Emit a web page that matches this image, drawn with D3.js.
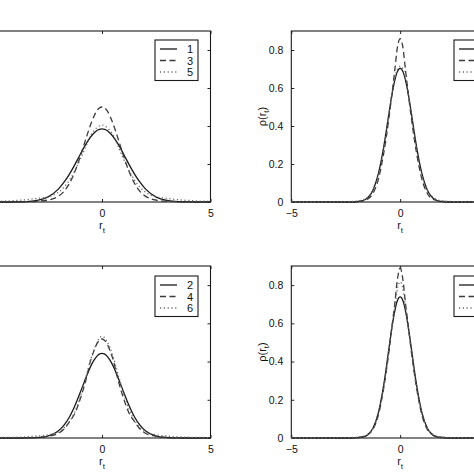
<!DOCTYPE html>
<html>
<head>
<meta charset="utf-8">
<script src="https://cdn.jsdelivr.net/npm/d3@7"></script>
<style>
  body { margin: 0; background: #fff; }
  svg { display: block; font-family: "Liberation Sans", Arial, sans-serif; }
  .tick text { font-size: 10.5px; fill: #111; }
  .domain { display: none; }
  .tick line { stroke: #222; }
</style>
</head>
<body>
<div id="chart"></div>
<script>
// r grid shared by every density curve
const rGrid = [-5, -4.5, -4, -3.5, -3, -2.5, -2, -1.75, -1.5, -1.25, -1, -0.75, -0.5, -0.375, -0.25, -0.125,
  0, 0.125, 0.25, 0.375, 0.5, 0.75, 1, 1.25, 1.5, 1.75, 2, 2.5, 3, 3.5, 4, 4.5, 5];

// top left: series 1, 3, 5
const tlSolid = [0, 0, 0.0004, 0.002, 0.008, 0.026, 0.069, 0.104, 0.147, 0.197, 0.251, 0.303, 0.346, 0.362, 0.375, 0.382,
  0.385, 0.382, 0.375, 0.362, 0.346, 0.303, 0.251, 0.197, 0.147, 0.104, 0.069, 0.026, 0.008, 0.002, 0.0004, 0, 0];
const tlDashed = [0, 0.0002, 0.0005, 0.0015, 0.004, 0.01, 0.031, 0.056, 0.098, 0.16, 0.24, 0.33, 0.415, 0.45, 0.478, 0.495,
  0.50, 0.495, 0.478, 0.45, 0.415, 0.33, 0.24, 0.16, 0.098, 0.056, 0.031, 0.01, 0.004, 0.0015, 0.0005, 0.0002, 0];
const tlDotted = [0.004, 0.005, 0.008, 0.012, 0.019, 0.027, 0.052, 0.078, 0.115, 0.165, 0.225, 0.29, 0.355, 0.375, 0.39, 0.40,
  0.405, 0.40, 0.39, 0.375, 0.355, 0.29, 0.225, 0.165, 0.115, 0.078, 0.052, 0.027, 0.019, 0.012, 0.008, 0.005, 0.004];

// top right: series 1, 3, 5
const trSolid = [0, 0, 0, 0, 0, 0, 0.0014, 0.006, 0.021, 0.062, 0.149, 0.293, 0.477, 0.566, 0.639, 0.687,
  0.704, 0.687, 0.639, 0.566, 0.477, 0.293, 0.149, 0.062, 0.021, 0.006, 0.0014, 0, 0, 0, 0, 0, 0];
const trDashed = [0, 0, 0, 0, 0, 0.001, 0.003, 0.006, 0.015, 0.045, 0.12, 0.26, 0.455, 0.57, 0.69, 0.815,
  0.86, 0.815, 0.69, 0.57, 0.455, 0.26, 0.12, 0.045, 0.015, 0.006, 0.003, 0.001, 0, 0, 0, 0, 0];
const trDotted = [0, 0, 0, 0, 0.001, 0.002, 0.005, 0.01, 0.025, 0.062, 0.143, 0.285, 0.475, 0.57, 0.648, 0.70,
  0.715, 0.70, 0.648, 0.57, 0.475, 0.285, 0.143, 0.062, 0.025, 0.01, 0.005, 0.002, 0.001, 0, 0, 0, 0];

// bottom left: series 2, 4, 6
const blSolid = [0, 0, 0, 0.0002, 0.0017, 0.0094, 0.0375, 0.067, 0.110, 0.169, 0.239, 0.313, 0.380, 0.406, 0.426, 0.439,
  0.443, 0.439, 0.426, 0.406, 0.380, 0.313, 0.239, 0.169, 0.110, 0.067, 0.0375, 0.0094, 0.0017, 0.0002, 0, 0, 0];
const blDashed = [0, 0, 0, 0.001, 0.003, 0.009, 0.025, 0.047, 0.085, 0.13, 0.205, 0.30, 0.415, 0.455, 0.49, 0.51,
  0.518, 0.51, 0.49, 0.455, 0.415, 0.30, 0.205, 0.13, 0.085, 0.047, 0.025, 0.009, 0.003, 0.001, 0, 0, 0];
const blDotted = [0.002, 0.003, 0.004, 0.006, 0.01, 0.016, 0.032, 0.052, 0.085, 0.138, 0.215, 0.315, 0.42, 0.46, 0.495, 0.522,
  0.532, 0.524, 0.50, 0.47, 0.43, 0.33, 0.23, 0.15, 0.092, 0.056, 0.034, 0.017, 0.01, 0.006, 0.004, 0.003, 0.002];

// bottom right: series 2, 4, 6
const brSolid = [0, 0, 0, 0, 0, 0, 0.001, 0.004, 0.016, 0.051, 0.133, 0.281, 0.481, 0.580, 0.663, 0.719,
  0.738, 0.719, 0.663, 0.580, 0.481, 0.281, 0.133, 0.051, 0.016, 0.004, 0.001, 0, 0, 0, 0, 0, 0];
const brDashed = [0, 0, 0, 0, 0, 0.001, 0.003, 0.006, 0.016, 0.045, 0.12, 0.265, 0.465, 0.585, 0.70, 0.83,
  0.89, 0.83, 0.70, 0.585, 0.465, 0.265, 0.12, 0.045, 0.016, 0.006, 0.003, 0.001, 0, 0, 0, 0, 0];
const brDotted = [0, 0, 0, 0, 0.001, 0.002, 0.004, 0.008, 0.019, 0.05, 0.125, 0.27, 0.47, 0.575, 0.68, 0.78,
  0.817, 0.78, 0.68, 0.575, 0.47, 0.27, 0.125, 0.05, 0.019, 0.008, 0.004, 0.002, 0.001, 0, 0, 0, 0];

const topLabels = ['1', '3', '5'];
const bottomLabels = ['2', '4', '6'];
const xTicks = [-5, 0, 5];
const yTicks = [0, 0.2, 0.4, 0.6, 0.8];

const styles = [
  { stroke: '#1a1a1a', dash: null },
  { stroke: '#3a3a3a', dash: '6,3.5' },
  { stroke: '#6a6a6a', dash: '1.2,2.6' }
];

const W = 474;

// panel boxes (the figure is cropped, so outer edges fall off-canvas)
const panels = [
  { x0: -6.5, x1: 210.5, y0: 31, y1: 202, series: [tlSolid, tlDashed, tlDotted], labels: topLabels, legendX: 155, legendY: 40 },
  { x0: 291.3, x1: 509, y0: 31, y1: 202, series: [trSolid, trDashed, trDotted], labels: topLabels, legendX: 454, legendY: 40 },
  { x0: -6.5, x1: 210.5, y0: 266, y1: 438, series: [blSolid, blDashed, blDotted], labels: bottomLabels, legendX: 155, legendY: 276 },
  { x0: 291.3, x1: 509, y0: 266, y1: 438, series: [brSolid, brDashed, brDotted], labels: bottomLabels, legendX: 454, legendY: 276 }
];

const svg = d3.select('#chart').append('svg')
  .attr('width', W)
  .attr('height', 474);

panels.forEach(p => {
  const x = d3.scaleLinear().domain([-5, 5]).range([p.x0, p.x1]);
  const y = d3.scaleLinear().domain([0, 0.9]).range([p.y1, p.y0]);
  const g = svg.append('g');
  const leftVisible = p.x0 > 0;

  // inward ticks on all four sides, labels only bottom/left
  g.append('g')
    .attr('transform', `translate(0,${p.y1})`)
    .call(d3.axisBottom(x).tickSizeInner(-3).tickSizeOuter(0).tickPadding(8)
      .tickValues(xTicks.filter(d => x(d) > 0 && x(d) < W))
      .tickFormat(d => d < 0 ? '\u2212' + Math.abs(d) : d));
  g.append('g')
    .attr('transform', `translate(0,${p.y0})`)
    .call(d3.axisTop(x).tickValues(xTicks).tickSizeInner(-3).tickSizeOuter(0).tickFormat(''));
  g.append('g')
    .attr('transform', `translate(${p.x0},0)`)
    .call(d3.axisLeft(y).tickValues(yTicks).tickSizeInner(-3).tickSizeOuter(0).tickPadding(8)
      .tickFormat(d => !leftVisible ? '' : d === 0 ? '0' : d3.format('.1f')(d)));
  g.append('g')
    .attr('transform', `translate(${p.x1},0)`)
    .call(d3.axisRight(y).tickValues(yTicks).tickSizeInner(-3).tickSizeOuter(0).tickFormat(''));

  g.append('rect')
    .attr('x', p.x0).attr('y', p.y0)
    .attr('width', p.x1 - p.x0).attr('height', p.y1 - p.y0)
    .attr('fill', 'none').attr('stroke', '#1a1a1a').attr('stroke-width', 1.1);

  const line = d3.line()
    .x((d, i) => x(rGrid[i]))
    .y(d => y(d))
    .curve(d3.curveMonotoneX);

  p.series.forEach((vals, i) => {
    g.append('path')
      .datum(vals)
      .attr('d', line)
      .attr('fill', 'none')
      .attr('stroke', styles[i].stroke)
      .attr('stroke-width', 1.3)
      .attr('stroke-dasharray', styles[i].dash);
  });

  // x label r_t
  const xl = g.append('text')
    .attr('x', x(0)).attr('y', p.y1 + 27)
    .attr('text-anchor', 'middle')
    .attr('font-size', 11).attr('fill', '#111');
  xl.append('tspan').text('r');
  xl.append('tspan').attr('font-size', 8).attr('dy', 4).text('t');

  // y label rho(r_t), only where the left edge is on the canvas
  if (leftVisible) {
    const yl = g.append('text')
      .attr('transform', `translate(${p.x0 - 25},${(p.y0 + p.y1) / 2}) rotate(-90)`)
      .attr('text-anchor', 'middle')
      .attr('font-size', 11).attr('fill', '#111');
    yl.append('tspan').text('\u03c1(r');
    yl.append('tspan').attr('font-size', 8).attr('dy', 3).text('t');
    yl.append('tspan').attr('dy', -3).text(')');
  }

  // legend
  const lg = g.append('g').attr('transform', `translate(${p.legendX},${p.legendY})`);
  lg.append('rect')
    .attr('width', 43).attr('height', 40.5)
    .attr('fill', '#fff').attr('stroke', '#1a1a1a').attr('stroke-width', 1.1);
  p.labels.forEach((lab, i) => {
    const ly = 9 + i * 11.5;
    lg.append('line')
      .attr('x1', 5).attr('x2', 22).attr('y1', ly).attr('y2', ly)
      .attr('stroke', styles[i].stroke).attr('stroke-width', 1.3)
      .attr('stroke-dasharray', styles[i].dash);
    if (p.legendX + 38 < W) {
      lg.append('text')
        .attr('x', 38).attr('y', ly + 4)
        .attr('text-anchor', 'end')
        .attr('font-size', 11).attr('fill', '#111')
        .text(lab);
    }
  });
});
</script>
</body>
</html>
